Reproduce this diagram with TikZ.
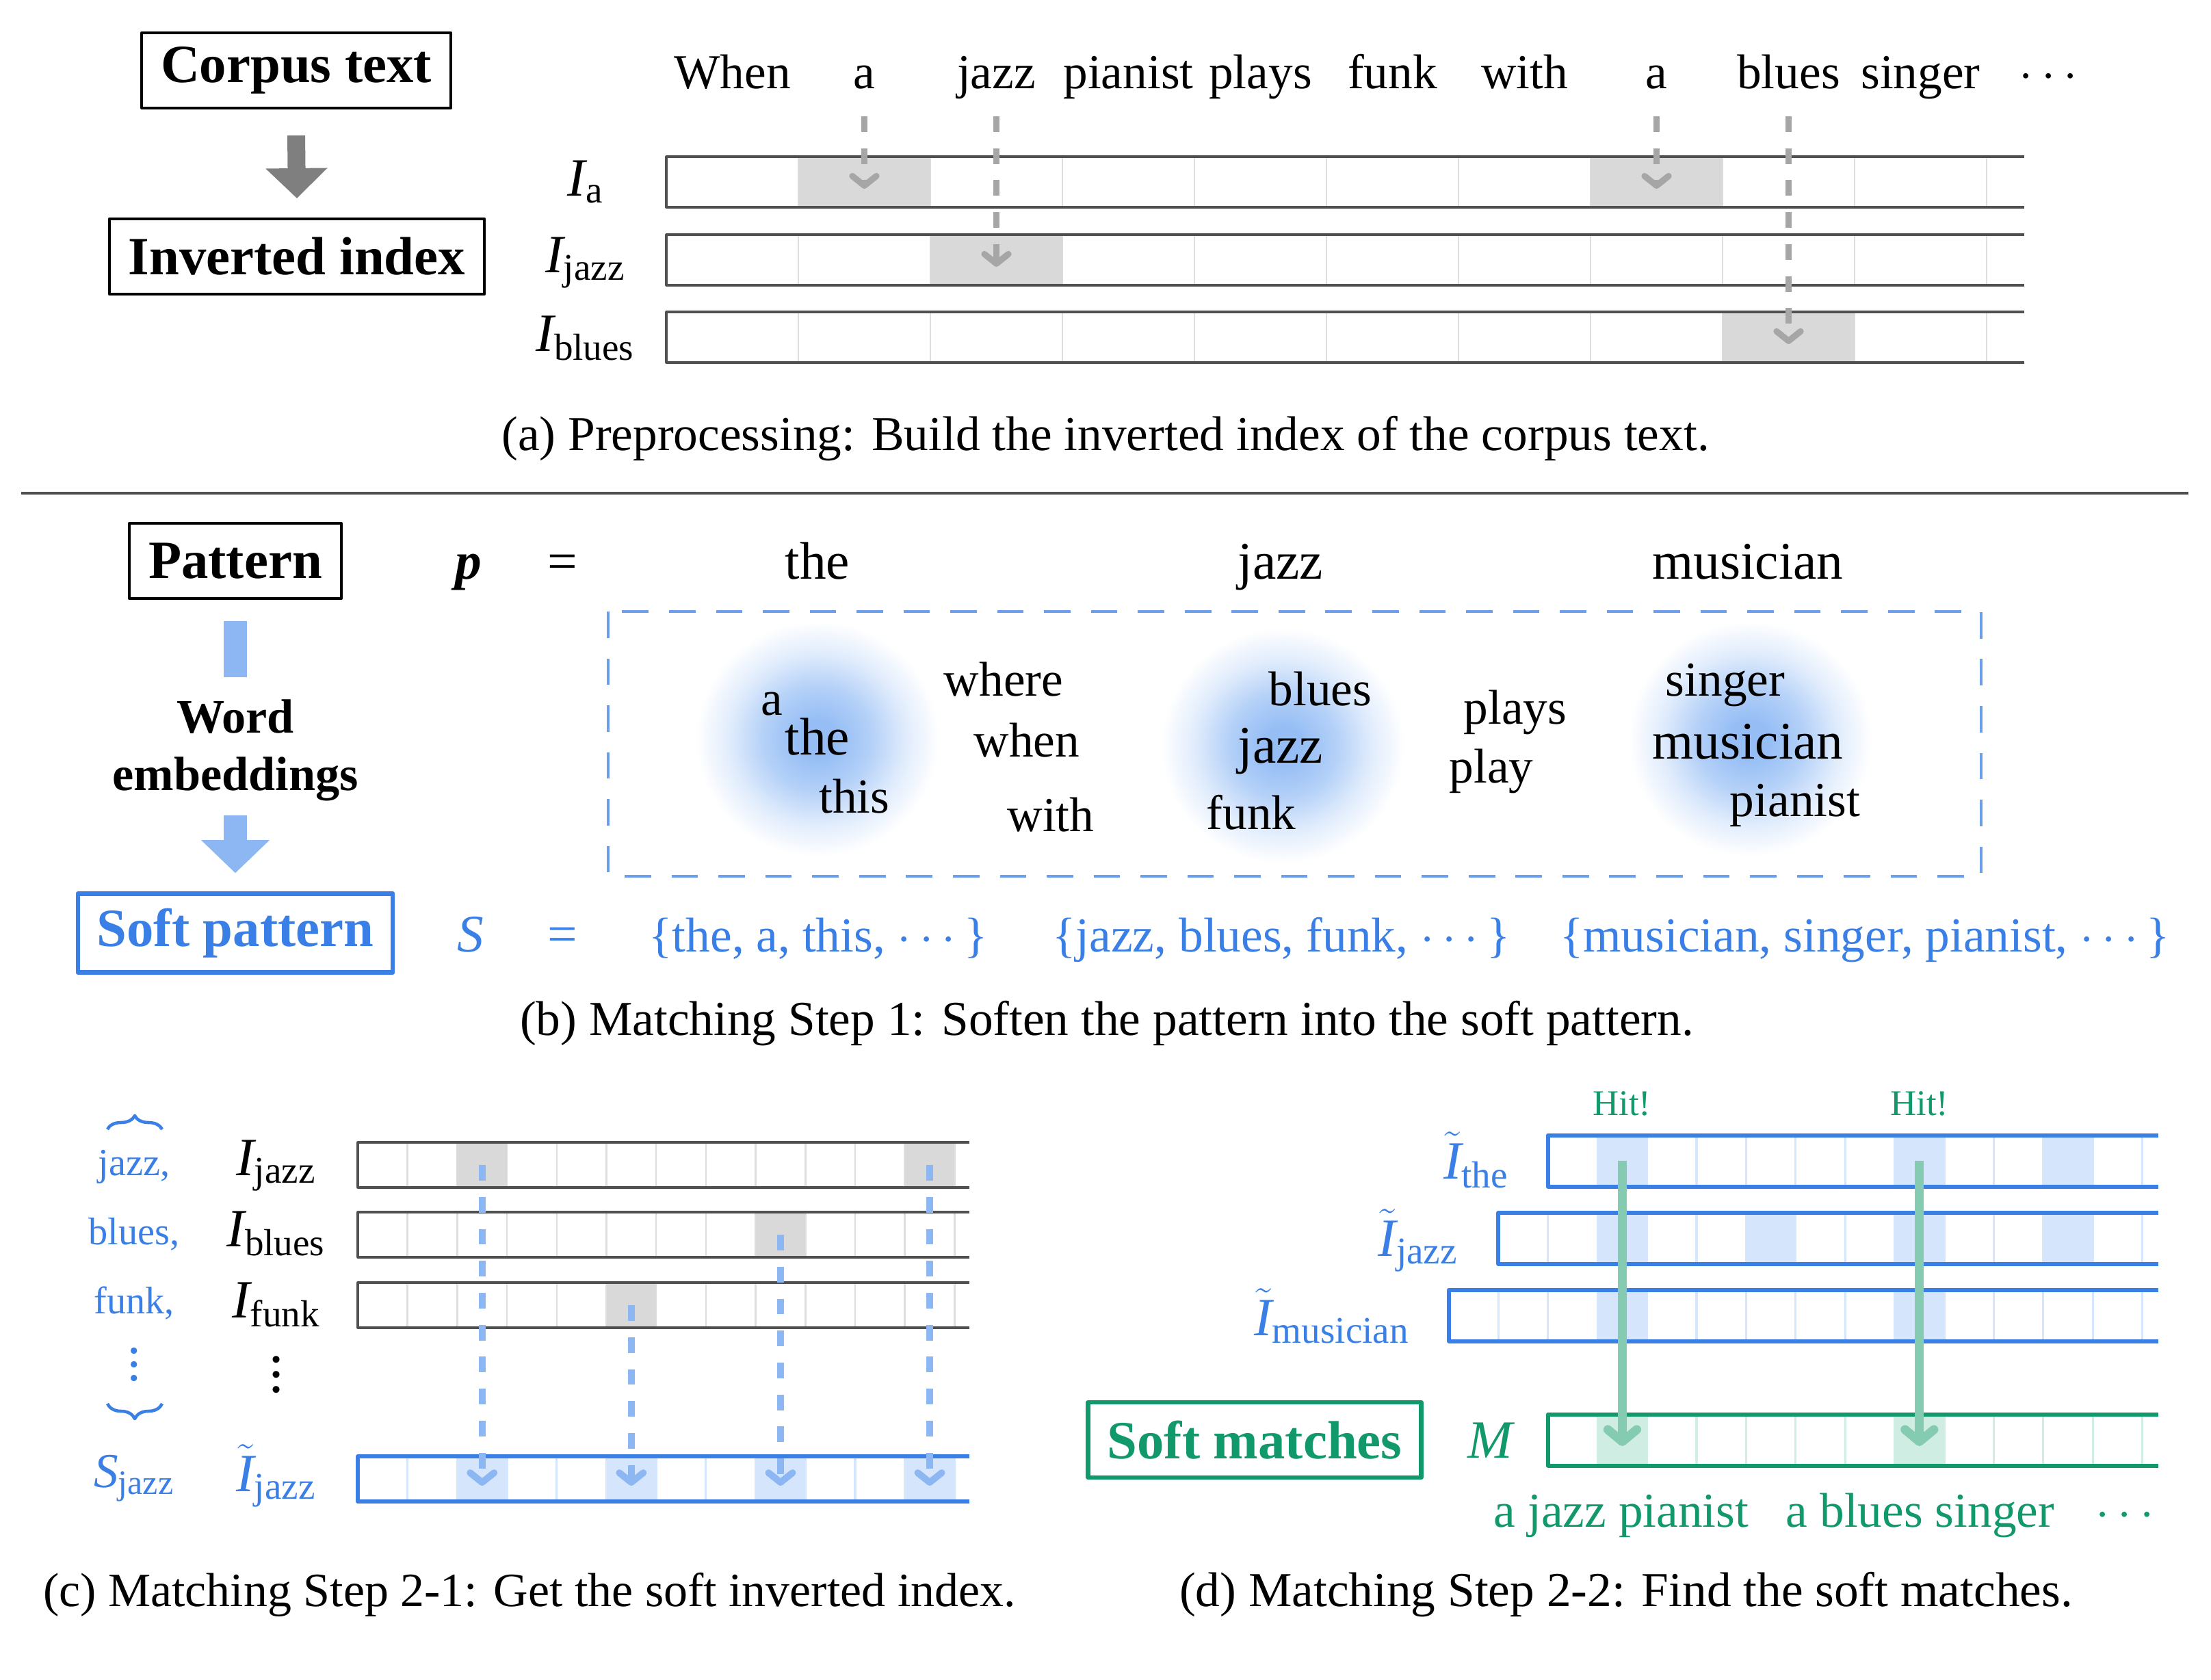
\documentclass[tikz,border=0pt]{standalone}
\usepackage{amsmath}
\usepackage{fontspec}
\setmainfont{Liberation Serif}
\usetikzlibrary{arrows.meta,positioning,decorations.pathreplacing}
\definecolor{qsblue}{HTML}{3A7FE6}
\definecolor{qsgreen}{HTML}{11996B}
\definecolor{qsblueline}{HTML}{8DB7F3}
\definecolor{qsbluecell}{HTML}{D5E5FB}
\definecolor{qsgreenline}{HTML}{85CBB1}
\definecolor{qsgreencell}{HTML}{CFEDE2}
\definecolor{qsgraycell}{HTML}{D9D9D9}
\definecolor{qsgraysep}{HTML}{DEDEDE}
\definecolor{qsgrayline}{HTML}{505050}
\definecolor{qsgrayarr}{HTML}{A6A6A6}
\definecolor{qsfat}{HTML}{7F7F7F}
\definecolor{qsblob}{HTML}{96BEF5}
\pgfdeclareradialshading{qsblobshade}{\pgfpoint{0bp}{0bp}}{color(0bp)=(qsblob); color(4bp)=(qsblob); color(11bp)=(qsblob!72!white); color(18bp)=(qsblob!30!white); color(25bp)=(white); color(50bp)=(white)}
\newcommand{\qsdots}[1]{\vbox{\baselineskip=#1\lineskiplimit=0pt\hbox{.}\hbox{.}\hbox{.}}}

\begin{document}
\begin{tikzpicture}[line join=round,
  font=\fontsize{20.3}{24}\selectfont,
  box/.style={draw=black,line width=1.2pt,inner xsep=0.28cm,minimum height=1.1cm,font=\fontsize{22.4}{27}\selectfont\bfseries},
  bluebox/.style={box,draw=qsblue,text=qsblue,line width=1.8pt,minimum height=1.15cm},
  greenbox/.style={box,draw=qsgreen,text=qsgreen,line width=1.8pt},
  word/.style={anchor=base},
  pword/.style={anchor=base,font=\fontsize{22}{26}\selectfont},
  ilabel/.style={anchor=base,font=\fontsize{22.4}{27}\selectfont},
  setword/.style={anchor=base,font=\fontsize{16}{19}\selectfont,text=qsblue},
  caption/.style={anchor=base},
  grayrow/.style={draw=qsgrayline,line width=0.9pt},
  graysep/.style={draw=qsgraysep,line width=0.7pt},
  bluerow/.style={draw=qsblue,line width=1.7pt},
  bluesep/.style={draw=qsbluecell,line width=0.9pt},
  greenrow/.style={draw=qsgreen,line width=1.7pt},
  greensep/.style={draw=qsgreencell,line width=0.9pt},
  grayarr/.style={draw=qsgrayarr,line width=2.6pt,dash pattern=on 6.5pt off 6.8pt,-{Straight Barb[round,length=4pt,width=10pt]}},
  bluearr/.style={draw=qsblueline,line width=2.8pt,dash pattern=on 6.5pt off 6.8pt,-{Straight Barb[round,length=4pt,width=10pt]}},
  hitarr/.style={draw=qsgreenline,line width=3.7pt,-{Straight Barb[round,length=5pt,width=12pt]}},
  fatarr/.style={draw=qsfat,line width=7.4pt,-{Triangle[length=12.5pt,width=25pt]}},
  blobarr/.style={draw=qsblueline,line width=9.7pt,-{Triangle[length=13.7pt,width=27.6pt]}}]
\path[use as bounding box] (0,0) rectangle (32.32,-24.56);
\fill[white] (0,0) rectangle (32.32,-24.56);

% (a) preprocessing
\node[box] (corpus) at (4.33,-1.03) {Corpus text};
\node[box] (inverted) at (4.34,-3.75) {Inverted index};
\draw[fatarr] ([yshift=-0.38cm]corpus.south)--([yshift=0.28cm]inverted.north);
\foreach \w [count=\i from 0] in {When,a,jazz,pianist,plays,funk,with,a,blues,singer,$\cdots$}
  \node[word] (w\i) at ({9.74+(\i+0.5)*1.93},-1.29) {\w};
\foreach \r/\y/\hl in {ia/-2.66/{1,7}, ijazz/-3.80/{2}, iblues/-4.93/{8}} {
  \foreach \k in {1,...,10} \draw[graysep] ({9.74+\k*1.93},{\y+0.37})--++(0,-0.74);
  \foreach \k in \hl {
    \fill[qsgraycell] ({9.74+\k*1.93},{\y-0.37}) rectangle ++(1.93,0.74);
    \coordinate (\r-\k) at ({9.74+(\k+0.5)*1.93},{\y-0.1});
  }
  \draw[grayrow] (29.59,{\y+0.37}) -| (9.74,{\y-0.37}) -- (29.59,{\y-0.37});
}
\node[ilabel] (la) at (8.56,-2.86) {$\textit{I}_{\text{a}}$};
\node[ilabel] (ljazz) at (8.56,-3.98) {$\textit{I}_{\text{jazz}}$};
\node[ilabel] (lblues) at (8.56,-5.13) {$\textit{I}_{\text{blues}}$};
\coordinate (atop) at (0,-1.70);
\draw[grayarr] (w1|-atop)--(ia-1);
\draw[grayarr] (w2|-atop)--(ijazz-2);
\draw[grayarr] (w7|-atop)--(ia-7);
\draw[grayarr] (w8|-atop)--(iblues-8);
\node[caption] (capa) at (16.16,-6.58) {(a) Preprocessing: Build the inverted index of the corpus text.};
\draw[qsgrayline,line width=1pt] (0.31,-7.21)--(31.99,-7.21);

% (b) soften the pattern
\node[box] (pattern) at (3.44,-8.20) {Pattern};
\node[font=\fontsize{20}{24}\selectfont\bfseries,align=center] (wordemb) at (3.44,-10.97) {Word\\embeddings};
\node[bluebox] (softpat) at (3.44,-13.64) {Soft pattern};
\coordinate (emtop) at (3.44,-9.90);
\coordinate (embot) at (3.44,-11.92);
\draw[qsblueline,line width=9.7pt] ([yshift=-0.31cm]pattern.south)--(emtop);
\draw[blobarr] (embot)--([yshift=0.27cm]softpat.north);
\node[pword] (pp) at (6.85,-8.46) {\textbf{\textit{p}}};
\node[pword] (peq) at (8.22,-8.46) {=};
\node[pword] (pthe) at (11.95,-8.46) {the};
\node[pword] (pjazz) at (18.72,-8.46) {jazz};
\node[pword] (pmus) at (25.55,-8.46) {musician};
\draw[qsblue!75!white,line width=1.1pt,dash pattern=on 11pt off 8.5pt] (8.89,-8.94) rectangle (28.96,-12.81);
\shade[shading=qsblobshade] (11.95,-10.80) ellipse (1.78 and 1.72);
\shade[shading=qsblobshade] (18.75,-10.90) ellipse (1.78 and 1.72);
\shade[shading=qsblobshade] (25.58,-10.80) ellipse (1.78 and 1.72);
\node[word] (ea) at (11.28,-10.45) {a};
\node[pword] (ethe) at (11.95,-11.03) {the};
\node[word] (ethis) at (12.49,-11.88) {this};
\node[word] (ewhere) at (14.67,-10.17) {where};
\node[word] (ewhen) at (15.01,-11.06) {when};
\node[word] (ewith) at (15.36,-12.15) {with};
\node[word] (eblues) at (19.30,-10.31) {blues};
\node[pword] (ejazz) at (18.72,-11.15) {jazz};
\node[word] (efunk) at (18.29,-12.12) {funk};
\node[word] (eplays) at (22.15,-10.58) {plays};
\node[word] (eplay) at (21.80,-11.44) {play};
\node[word] (esinger) at (25.22,-10.17) {singer};
\node[pword] (emus) at (25.55,-11.09) {musician};
\node[word] (epianist) at (26.24,-11.93) {pianist};
\node[pword,text=qsblue] (ss) at (6.88,-13.91) {\textit{S}};
\node[pword,text=qsblue] (seq) at (8.22,-13.91) {=};
\node[word,text=qsblue] (sthe) at (11.96,-13.91) {\{the, a, this, $\cdots$\}};
\node[word,text=qsblue] (sjazz) at (18.73,-13.91) {\{jazz, blues, funk, $\cdots$\}};
\node[word,text=qsblue] (smus) at (27.26,-13.91) {\{musician, singer, pianist, $\cdots$\}};
\node[caption] (capb) at (16.18,-15.13) {(b) Matching Step 1: Soften the pattern into the soft pattern.};

% (c) soft inverted index
\draw[qsblue,line width=1.3pt,decorate,decoration={brace,amplitude=0.2cm}] (1.57,-16.51)--(2.37,-16.51);
\draw[qsblue,line width=1.3pt,decorate,decoration={brace,amplitude=0.22cm}] (2.37,-20.52)--(1.57,-20.52);
\node[setword] (sw1) at (1.96,-17.18) {jazz,};
\node[setword] (sw2) at (1.96,-18.19) {blues,};
\node[setword] (sw3) at (1.96,-19.20) {funk,};
\node[text=qsblue,inner sep=0pt,font=\fontsize{22}{24}\selectfont] (sw4) at (1.96,-19.95) {\qsdots{0.2cm}};
\node[anchor=base,text=qsblue] (sjz) at (1.96,-21.74) {$\textit{S}_{\text{jazz}}$};
\node[ilabel] (cl1) at (4.04,-17.18) {$\textit{I}_{\text{jazz}}$};
\node[ilabel] (cl2) at (4.04,-18.22) {$\textit{I}_{\text{blues}}$};
\node[ilabel] (cl3) at (4.04,-19.26) {$\textit{I}_{\text{funk}}$};
\node[inner sep=0pt,font=\fontsize{24}{26}\selectfont] (cl4) at (4.04,-20.10) {\qsdots{0.22cm}};
\node[ilabel,text=qsblue] (cl5) at (4.04,-21.80) {$\tilde{\textit{I}}_{\text{jazz}}$};
\foreach \r/\y/\hl in {jazz/-17.03/{2,11}, blues/-18.05/{8}, funk/-19.08/{5}} {
  \foreach \k in {1,...,12} \draw[graysep] ({5.23+\k*0.727},{\y+0.33})--++(0,-0.66);
  \foreach \k in \hl {
    \fill[qsgraycell] ({5.23+\k*0.727},{\y-0.33}) rectangle ++(0.727,0.66);
    \coordinate (c\r-\k) at ({5.23+(\k+0.5)*0.727},\y);
  }
  \draw[grayrow] (14.17,{\y+0.33}) -| (5.23,{\y-0.33}) -- (14.17,{\y-0.33});
}
\foreach \k in {1,...,12} \draw[bluesep] ({5.23+\k*0.727},-21.29)--++(0,-0.66);
\foreach \k in {2,5,8,11} {
  \fill[qsbluecell] ({5.23+\k*0.727},-21.95) rectangle ++(0.727,0.66);
  \coordinate (csoft-\k) at ({5.23+(\k+0.5)*0.727},-21.72);
}
\draw[bluerow] (14.17,-21.29) -| (5.23,-21.95) -- (14.17,-21.95);
\draw[bluearr] (cjazz-2)--(csoft-2);
\draw[bluearr] (cfunk-5)--(csoft-5);
\draw[bluearr] (cblues-8)--(csoft-8);
\draw[bluearr] (cjazz-11)--(csoft-11);
\node[caption,font=\fontsize{19.9}{24}\selectfont] (capc) at (7.74,-23.48) {(c) Matching Step 2-1: Get the soft inverted index.};

% (d) soft matches
\foreach \r/\s/\y/\hl in {the/2/-16.97/{3,9,12}, jazz/1/-18.10/{3,6,9,12}, mus/0/-19.23/{3,9}} {
  \foreach \k in {\s,...,13} \draw[bluesep] ({21.18+(\k+1)*0.724},{\y+0.375})--++(0,-0.75);
  \foreach \k in \hl {
    \fill[qsbluecell] ({21.18+\k*0.724},{\y-0.375}) rectangle ++(0.724,0.75);
    \coordinate (d\r-\k) at ({21.18+(\k+0.5)*0.724},\y);
  }
  \draw[bluerow] (31.55,{\y+0.375}) -| ({21.18+\s*0.724},{\y-0.375}) -- (31.55,{\y-0.375});
}
\foreach \k in {2,...,13} \draw[greensep] ({21.18+(\k+1)*0.724},-20.675)--++(0,-0.75);
\foreach \k in {3,9} {
  \fill[qsgreencell] ({21.18+\k*0.724},-21.425) rectangle ++(0.724,0.75);
  \coordinate (dm-\k) at ({21.18+(\k+0.5)*0.724},-21.14);
}
\draw[greenrow] (31.55,-20.675) -| (22.63,-21.425) -- (31.55,-21.425);
\node[ilabel,anchor=base east,text=qsblue] (dl1) at (22.18,-17.23) {$\tilde{\textit{I}}_{\text{the}}$};
\node[ilabel,anchor=base east,text=qsblue] (dl2) at (21.44,-18.36) {$\tilde{\textit{I}}_{\text{jazz}}$};
\node[ilabel,anchor=base east,text=qsblue] (dl3) at (20.73,-19.52) {$\tilde{\textit{I}}_{\text{musician}}$};
\node[ilabel,anchor=base east,text=qsgreen] (dl4) at (22.27,-21.31) {\textit{M}};
\node[greenbox] (softm) at (18.34,-21.05) {Soft matches};
\node[anchor=base,font=\fontsize{15}{18}\selectfont,text=qsgreen] (hit1) at (23.71,-16.30) {Hit!};
\node[anchor=base,font=\fontsize{15}{18}\selectfont,text=qsgreen] (hit2) at (28.06,-16.30) {Hit!};
\draw[hitarr] (dthe-3)--(dm-3);
\draw[hitarr] (dthe-9)--(dm-9);
\node[word,text=qsgreen] (m1) at (23.70,-22.32) {a jazz pianist};
\node[word,text=qsgreen] (m2) at (28.07,-22.32) {a blues singer};
\node[word,text=qsgreen] (m3) at (31.12,-22.32) {$\cdots$};
\node[caption] (capd) at (23.77,-23.48) {(d) Matching Step 2-2: Find the soft matches.};
\end{tikzpicture}
\end{document}
